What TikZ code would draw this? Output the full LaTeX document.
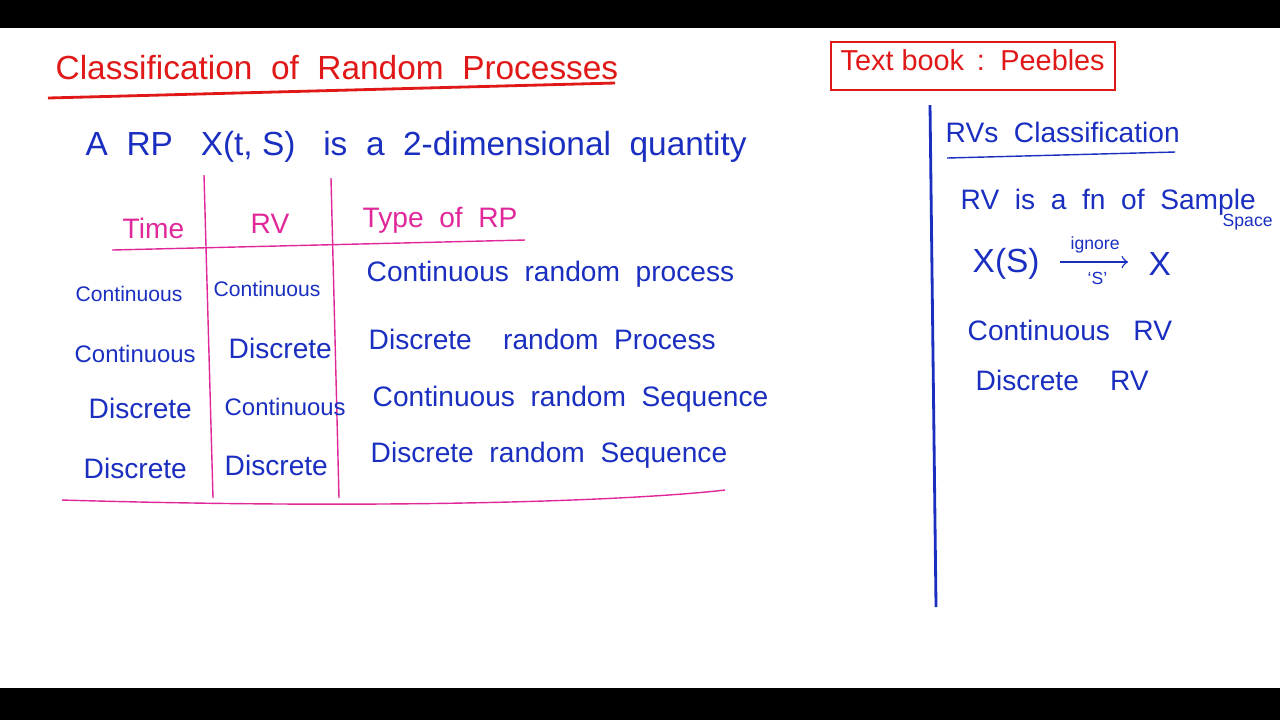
\documentclass[tikz,border=0pt]{standalone}
\usepackage{fontspec}
\setmainfont{Liberation Sans}
\definecolor{rd}{HTML}{E01818}
\definecolor{bl}{HTML}{1A2FC0}
\definecolor{mg}{HTML}{E0289A}
\begin{document}
\begin{tikzpicture}[x=0.01cm,y=-0.01cm,
 t/.style={anchor=west,inner sep=0pt,font=\fontsize{8}{9}\selectfont},
 r/.style={t,text=rd},b/.style={t,text=bl},m/.style={t,text=mg}]
\useasboundingbox (0,0) rectangle (1280,720);
\fill[white] (0,0) rectangle (1280,720);
\fill[black] (0,0) rectangle (1280,28);
\fill[black] (0,688) rectangle (1280,720);
% titles
\node[r,font=\fontsize{9.5}{11}\selectfont] (title) at (55,68) {Classification \ of \ Random \ Processes};
\draw[rd,thick] (48,98) -- (615,83);
\node[r,font=\fontsize{8.2}{10}\selectfont] (tbt) at (840,60) {Text book \,: \,Peebles};
\draw[rd,thick] (831,42) rectangle (1115,90);
% right panel
\draw[bl,thick] (930,105) -- (936,607);
\node[b] (rvc) at (945,132) {RVs \ Classification};
\draw[bl] (947,158) -- (1175,152);
\node[b] (rvfn) at (960,202) {RV \ is \ a \ fn \ of \ Sample};
\node[b,font=\fontsize{5}{6}\selectfont] (space) at (1222,222) {Space};
\node[b,font=\fontsize{9.5}{11}\selectfont] (xs) at (972,264) {X(S)};
\node[b,font=\fontsize{5}{6}\selectfont] (ign) at (1070,245) {ignore};
\node[b,font=\fontsize{5}{6}\selectfont] (s) at (1087,278) {`S'};
\coordinate (a1) at (1060,262); \coordinate (a2) at (1128,262);
\draw[bl,->] (a1) -- (a2);
\node[b,font=\fontsize{9.5}{11}\selectfont] (x) at (1148,264) {X};
\node[b] (crv) at (967,330) {Continuous \ \ RV};
\node[b] (drv) at (975,380) {Discrete \ \ \ RV};
% left
\node[b,font=\fontsize{9.5}{11}\selectfont] (rp) at (85,147) {A \ RP \ \ X(t, S) \ \ is \ a \ 2-dimensional \ quantity};
\node[m] (h1) at (122,228) {Time};
\node[m] (h2) at (250,224) {RV};
\node[m] (h3) at (362,220) {Type \ of \ RP};
\draw[mg] (112,250) -- (525,240);
\draw[mg] (204,175) -- (213,498);
\draw[mg] (331,178) -- (339,498);
\draw[mg] (62,500) .. controls (400,510) and (640,500) .. (725,490);
\node[b,font=\fontsize{6}{7}\selectfont] at (75,294) {Continuous};
\node[b,font=\fontsize{6}{7}\selectfont] at (213,289) {Continuous};
\node[b] at (366,274) {Continuous \ random \ process};
\node[b,font=\fontsize{6.8}{8}\selectfont] at (74,354) {Continuous};
\node[b] at (228,348) {Discrete};
\node[b] at (368,339) {Discrete \ \ \ random \ Process};
\node[b] at (88,408) {Discrete};
\node[b,font=\fontsize{6.8}{8}\selectfont] at (224,407) {Continuous};
\node[b] at (372,399) {Continuous \ random \ Sequence};
\node[b] at (83,468) {Discrete};
\node[b] at (224,465) {Discrete};
\node[b] at (370,455) {Discrete \ random \ Sequence};
\end{tikzpicture}
\end{document}
